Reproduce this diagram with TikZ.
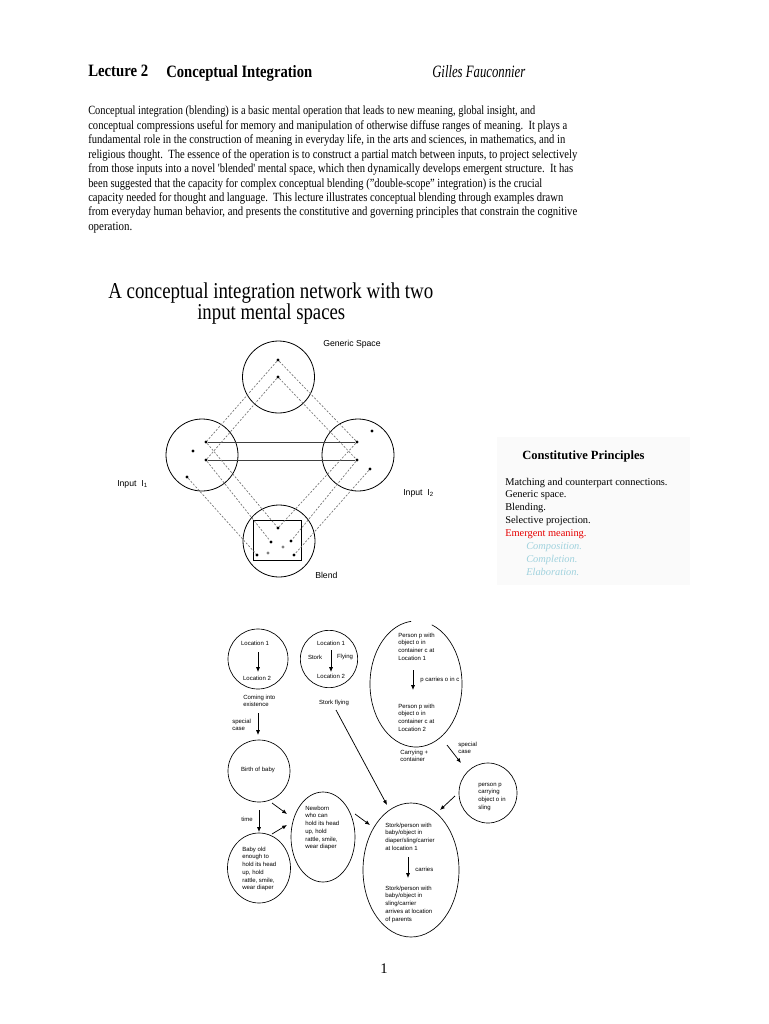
\documentclass[tikz,border=0pt]{standalone}
\usepackage{fontspec}
\usepackage{graphicx}
\setmainfont{Liberation Serif}
\newfontfamily\hel{Liberation Sans}
\usetikzlibrary{shapes.geometric,arrows.meta}
\newcommand\fitw[2]{\resizebox{#1}{\height}{#2}}
\definecolor{emred}{RGB}{230,0,0}
\definecolor{paleblue}{RGB}{160,210,222}
\begin{document}
\begin{tikzpicture}[x=0.75pt,y=-0.75pt,
  dot/.style={circle,fill=black,inner sep=0pt,minimum size=2.5pt},
  gdot/.style={circle,fill=gray,inner sep=0pt,minimum size=2.5pt},
  space/.style={circle,draw,line width=0.6pt,minimum size=54pt,inner sep=0pt},
  dline/.style={black!55,dash pattern=on 1.5pt off 1.2pt,line width=0.5pt},
  match/.style={black!75,line width=0.6pt},
  lbl/.style={font=\hel\fontsize{6.5}{7.5}\selectfont,inner sep=0pt},
  tx/.style={font=\hel\fontsize{4.5}{5.8}\selectfont,inner sep=0pt,align=left},
  bub/.style={ellipse,draw,line width=0.5pt,inner sep=0pt},
  arr/.style={-{Latex[length=3.6pt,width=3pt]},line width=0.55pt},
  para/.style={font=\fontsize{9.4}{11}\selectfont,inner sep=0pt,anchor=base west},
  prin/.style={font=\fontsize{7.8}{9}\selectfont,inner sep=0pt,anchor=base west}]
\useasboundingbox[fill=white] (0,0) rectangle (768,1024);

% ---------- header ----------
\node[inner sep=0pt,anchor=base west,font=\fontsize{13}{15}\selectfont\bfseries] (lec) at (88,77) {\fitw{45pt}{Lecture 2}};
\node[inner sep=0pt,anchor=base west,font=\fontsize{13}{15}\selectfont\bfseries] (ttl) at (166,77) {\fitw{109.5pt}{Conceptual Integration}};
\node[inner sep=0pt,anchor=base west,font=\fontsize{13}{15}\selectfont\itshape] (auth) at (432,77) {\fitw{69.75pt}{Gilles Fauconnier}};

% ---------- paragraph ----------
\node[para] (p1) at (88,115) {\fitw{335.25pt}{Conceptual integration (blending) is a basic mental operation that leads to new meaning, global insight, and}};
\node[para] (p2) at (88,129.4) {\fitw{359.25pt}{conceptual compressions useful for memory and manipulation of otherwise diffuse ranges of meaning.\ \ It plays a}};
\node[para] (p3) at (88,143.8) {\fitw{357.75pt}{fundamental role in the construction of meaning in everyday life, in the arts and sciences, in mathematics, and in}};
\node[para] (p4) at (88,158.2) {\fitw{366.75pt}{religious thought.\ \ The essence of the operation is to construct a partial match between inputs, to project selectively}};
\node[para] (p5) at (88,172.6) {\fitw{363.75pt}{from those inputs into a novel \textquotesingle blended\textquotesingle\ mental space, which then dynamically develops emergent structure.\ \ It has}};
\node[para] (p6) at (88,187) {\fitw{340.5pt}{been suggested that the capacity for complex conceptual blending ("double-scope" integration) is the crucial}};
\node[para] (p7) at (88,201.4) {\fitw{356.25pt}{capacity needed for thought and language.\ \ This lecture illustrates conceptual blending through examples drawn}};
\node[para] (p8) at (88,215.8) {\fitw{366.75pt}{from everyday human behavior, and presents the constitutive and governing principles that constrain the cognitive}};
\node[para] (p9) at (88,230.2) {\fitw{33pt}{operation.}};

% ---------- network title ----------
\node[inner sep=0pt,anchor=base west,font=\fontsize{17}{19}\selectfont] (nt1) at (108,298) {\fitw{243.75pt}{A conceptual integration network with two}};
\node[inner sep=0pt,anchor=base west,font=\fontsize{17}{19}\selectfont] (nt2) at (197,319) {\fitw{111pt}{input mental spaces}};

% ---------- network ----------
\node[space] (gen) at (278.5,377) {};
\node[space] (in1) at (202,455) {};
\node[space] (in2) at (358,455) {};
\node[space] (bl) at (279,541) {};
\node[draw,line width=0.6pt,minimum width=36pt,minimum height=30pt,inner sep=0pt] (box) at (277,540) {};

\node[dot] (g1) at (278,360) {};
\node[dot] (g2) at (278,377) {};
\node[dot] (a1) at (206,442) {};
\node[dot] (a2) at (206,460) {};
\node[dot] (a3) at (193,451) {};
\node[dot] (a4) at (187,477) {};
\node[dot] (c1) at (357,442) {};
\node[dot] (c2) at (357,460) {};
\node[dot] (c3) at (372,431) {};
\node[dot] (c4) at (370,469) {};
\node[dot] (b1) at (278,528) {};
\node[dot] (b2) at (271,542) {};
\node[dot] (b3) at (291,541) {};
\node[gdot] (bg1) at (283,547) {};
\node[gdot] (bg2) at (268,553) {};
\node[dot] (b4) at (257,555) {};
\node[dot] (b5) at (294,555) {};

\draw[match] (a1) -- (c1);
\draw[match] (a2) -- (c2);
\draw[dline] (g1) -- (a1);
\draw[dline] (g1) -- (c1);
\draw[dline] (g2) -- (a2);
\draw[dline] (g2) -- (c2);
\draw[dline] (a1) -- (b1);
\draw[dline] (c1) -- (b1);
\draw[dline] (a2) -- (b2);
\draw[dline] (c2) -- (b3);
\draw[dline] (a4) -- (b4);
\draw[dline] (c4) -- (b5);

\node[lbl,anchor=base west] (lgen) at (323,346) {Generic Space};
\node[lbl,anchor=base west] (lin1) at (117,486) {Input\ \ I\textsubscript{1}};
\node[lbl,anchor=base west] (lin2) at (403,495) {Input\ \ I\textsubscript{2}};
\node[lbl,anchor=base west] (lbl) at (315,578) {Blend};

% ---------- constitutive principles ----------
\fill[gray!4] (497,437) rectangle (690,585);
\node[inner sep=0pt,anchor=base,font=\fontsize{9.4}{11}\selectfont\bfseries] (cpt) at (583.5,459) {Constitutive Principles};
\node[prin] (cp1) at (505,485) {Matching and counterpart connections.};
\node[prin] (cp2) at (505,497.9) {Generic space.};
\node[prin] (cp3) at (505,510.7) {Blending.};
\node[prin] (cp4) at (505,523.6) {Selective projection.};
\node[prin,text=emred] (cp5) at (505,536.4) {Emergent meaning.};
\node[prin,text=paleblue,font=\fontsize{7.8}{9}\selectfont\itshape] (cp6) at (526,549.3) {Composition.};
\node[prin,text=paleblue,font=\fontsize{7.8}{9}\selectfont\itshape] (cp7) at (526,562.1) {Completion.};
\node[prin,text=paleblue,font=\fontsize{7.8}{9}\selectfont\itshape] (cp8) at (526,575) {Elaboration.};

% ---------- stork network ----------
\node[bub,minimum width=45pt,minimum height=45pt] (A) at (258,659) {};
\node[bub,minimum width=43pt,minimum height=43pt] (S) at (329,659) {};
\coordinate (G) at (416,684);
\draw[line width=0.5pt] (G) ++(-70:46 and 63) arc[start angle=-70,end angle=264,x radius=46,y radius=63];
\node[bub,minimum width=46.5pt,minimum height=46.5pt] (B) at (259,771) {};
\node[bub,minimum width=47.25pt,minimum height=52.5pt] (C) at (259,868) {};
\node[bub,minimum width=48pt,minimum height=67.5pt] (D) at (323,837) {};
\node[bub,minimum width=43.5pt,minimum height=45pt] (H) at (488,793) {};
\node[bub,minimum width=72pt,minimum height=100.5pt] (F) at (411,870) {};

\node[tx,anchor=base] (A1) at (255,645) {Location 1};
\node[tx,anchor=base] (A2) at (257,680) {Location 2};
\node[tx,anchor=north west] (A3) at (243,694.6) {Coming into\\existence};
\node[tx,anchor=north west] (A4) at (232,718.6) {special\\case};
\node[tx,anchor=base] (B1) at (258,771) {Birth of baby};
\node[tx,anchor=base] (T1) at (247,821) {time};
\node[tx,anchor=north west] (C1) at (242,846.6) {Baby old\\enough to\\hold its head\\up, hold\\rattle, smile,\\wear diaper};
\node[tx,anchor=north west] (D1) at (305,805.6) {Newborn\\who can\\hold its head\\up, hold\\rattle, smile,\\wear diaper};
\node[tx,anchor=base] (S1) at (331,645) {Location 1};
\node[tx,anchor=base] (S2) at (315,659) {Stork};
\node[tx,anchor=base] (S3) at (345,658) {Flying};
\node[tx,anchor=base] (S4) at (331,678) {Location 2};
\node[tx,anchor=base] (S5) at (334,704) {Stork flying};
\node[tx,anchor=north west] (G1) at (398,632.6) {Person p with\\object o in\\container c at\\Location 1};
\node[tx,anchor=base west] (G2) at (420,681) {p carries o in c};
\node[tx,anchor=north west] (G3) at (398,703.6) {Person p with\\object o in\\container c at\\Location 2};
\node[tx,anchor=north west] (G4) at (400,749.6) {Carrying +\\container};
\node[tx,anchor=north west] (G5) at (458,741.6) {special\\case};
\node[tx,anchor=north west] (H1) at (478,782.6) {person p\\carrying\\object o in\\sling};
\node[tx,anchor=north west] (F1) at (385,822.6) {Stork/person with\\baby/object in\\diaper/sling/carrier\\at location 1};
\node[tx,anchor=base west] (F2) at (415,871) {carries};
\node[tx,anchor=north west] (F3) at (385,885.6) {Stork/person with\\baby/object in\\sling/carrier\\arrives at location\\of parents};

\coordinate (aA1) at (258,652); \coordinate (aA2) at (258,672);
\coordinate (aS1) at (331,650); \coordinate (aS2) at (331,672);
\coordinate (aAB1) at (258,713); \coordinate (aAB2) at (258,735);
\coordinate (aBC1) at (259,810); \coordinate (aBC2) at (259,832);
\coordinate (aBD1) at (272,803); \coordinate (aBD2) at (287,814);
\coordinate (aCD1) at (272,834); \coordinate (aCD2) at (287,825);
\coordinate (aDF1) at (355,814); \coordinate (aDF2) at (370,825);
\coordinate (aSF1) at (336,710); \coordinate (aSF2) at (387,805);
\coordinate (aG1) at (413,670); \coordinate (aG2) at (413,690);
\coordinate (aGH1) at (447,745); \coordinate (aGH2) at (461,763);
\coordinate (aHF1) at (455,796); \coordinate (aHF2) at (440,810);
\coordinate (aF1) at (408,857); \coordinate (aF2) at (408,878);

\draw[arr] (aA1) -- (aA2);
\draw[arr] (aS1) -- (aS2);
\draw[arr] (aAB1) -- (aAB2);
\draw[arr] (aBC1) -- (aBC2);
\draw[arr] (aBD1) -- (aBD2);
\draw[arr] (aCD1) -- (aCD2);
\draw[arr] (aDF1) -- (aDF2);
\draw[arr] (aSF1) -- (aSF2);
\draw[arr] (aG1) -- (aG2);
\draw[arr] (aGH1) -- (aGH2);
\draw[arr] (aHF1) -- (aHF2);
\draw[arr] (aF1) -- (aF2);

\node[inner sep=0pt,anchor=base,font=\fontsize{11}{13}\selectfont] (pg) at (384,973) {1};
\end{tikzpicture}
\end{document}
